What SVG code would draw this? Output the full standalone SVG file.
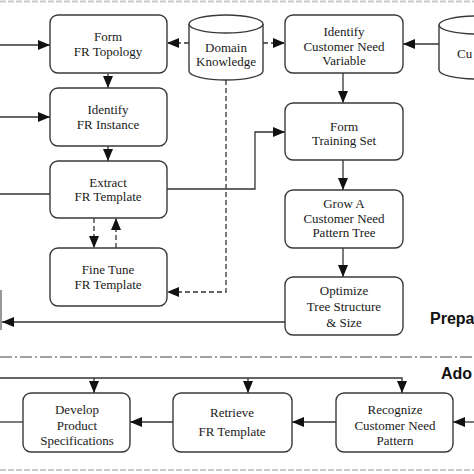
<svg xmlns="http://www.w3.org/2000/svg" width="474" height="474" viewBox="0 0 474 474">
<defs>
<style>
.box{fill:#fff;stroke:#3a3a3a;stroke-width:1.4}
.t{font-family:"Liberation Serif","Times New Roman",serif;font-size:13px;fill:#1a1a1a;text-anchor:middle}
.lbl{font-family:"Liberation Sans",Arial,sans-serif;font-size:16px;font-weight:bold;fill:#111}
.ln{fill:none;stroke:#333;stroke-width:1.3}
.dl{fill:none;stroke:#333;stroke-width:1.3;stroke-dasharray:5 3}
.sep{fill:none;stroke:#444;stroke-width:1.2;stroke-dasharray:12 3 2 3}
.faint{fill:none;stroke:#c8c8c8;stroke-width:2;stroke-dasharray:6 2}
</style>
<marker id="ah" viewBox="0 0 12 10" refX="12" refY="5" markerWidth="12" markerHeight="10" markerUnits="userSpaceOnUse" orient="auto">
<path d="M0,0 L12,5 L0,10 z" fill="#111"/>
</marker>
</defs>
<rect width="474" height="474" fill="#fff"/>
<line class="faint" x1="0" y1="1.5" x2="474" y2="1.5"/>
<line class="faint" x1="0" y1="470" x2="474" y2="470"/>
<rect x="0" y="290" width="2" height="40" fill="#999"/>

<g id="connectors">
<line class="ln" x1="0" y1="45" x2="50" y2="45" marker-end="url(#ah)"/>
<line class="ln" x1="0" y1="117" x2="50" y2="117" marker-end="url(#ah)"/>
<line class="ln" x1="0" y1="194" x2="50" y2="194"/>
<line class="ln" x1="108" y1="73" x2="108" y2="88" marker-end="url(#ah)"/>
<line class="ln" x1="108" y1="146" x2="108" y2="161" marker-end="url(#ah)"/>
<line class="dl" x1="94" y1="218" x2="94" y2="248" marker-end="url(#ah)"/>
<line class="dl" x1="116" y1="248" x2="116" y2="218" marker-end="url(#ah)"/>
<line class="dl" x1="189" y1="43" x2="167" y2="43" marker-end="url(#ah)"/>
<line class="dl" x1="263" y1="43" x2="285" y2="43" marker-end="url(#ah)"/>
<polyline class="dl" points="226,80 226,292 167,292" marker-end="url(#ah)"/>
<polyline class="ln" points="167,189 255,189 255,132 285,132" marker-end="url(#ah)"/>
<line class="ln" x1="439" y1="44" x2="403" y2="44" marker-end="url(#ah)"/>
<line class="ln" x1="343" y1="73" x2="343" y2="103" marker-end="url(#ah)"/>
<line class="ln" x1="343" y1="160" x2="343" y2="190" marker-end="url(#ah)"/>
<line class="ln" x1="343" y1="248" x2="343" y2="277" marker-end="url(#ah)"/>
<line class="ln" x1="285" y1="322" x2="2" y2="322" marker-end="url(#ah)"/>
<line class="sep" x1="0" y1="357" x2="474" y2="357"/>
<polyline class="ln" points="0,378 402,378 402,393" marker-end="url(#ah)"/>
<line class="ln" x1="94" y1="378" x2="94" y2="393" marker-end="url(#ah)"/>
<line class="ln" x1="248" y1="378" x2="248" y2="393" marker-end="url(#ah)"/>
<line class="ln" x1="0" y1="422" x2="23" y2="422"/>
<line class="ln" x1="173" y1="422" x2="130" y2="422" marker-end="url(#ah)"/>
<line class="ln" x1="336" y1="422" x2="292" y2="422" marker-end="url(#ah)"/>
<line class="ln" x1="474" y1="422" x2="453" y2="422" marker-end="url(#ah)"/>
</g>

<g id="form-fr-topology">
<rect class="box" x="50" y="15" width="117" height="58" rx="8"/>
<text class="t" x="108" y="41">Form</text>
<text class="t" x="108" y="56">FR Topology</text>
</g>
<g id="identify-fr-instance">
<rect class="box" x="50" y="88" width="117" height="58" rx="8"/>
<text class="t" x="108" y="114">Identify</text>
<text class="t" x="108" y="129">FR Instance</text>
</g>
<g id="extract-fr-template">
<rect class="box" x="50" y="161" width="117" height="57" rx="8"/>
<text class="t" x="108" y="187">Extract</text>
<text class="t" x="108" y="201">FR Template</text>
</g>
<g id="fine-tune-fr-template">
<rect class="box" x="50" y="248" width="117" height="58" rx="8"/>
<text class="t" x="108" y="274">Fine Tune</text>
<text class="t" x="108" y="289">FR Template</text>
</g>
<g id="domain-knowledge">
<path class="box" d="M189,24 A37,9 0 0 1 263,24 L263,71 A37,9 0 0 1 189,71 Z"/>
<path class="box" fill="none" d="M189,24 A37,9 0 0 0 263,24"/>
<text class="t" x="226" y="52">Domain</text>
<text class="t" x="226" y="66">Knowledge</text>
</g>
<g id="identify-customer-need-variable">
<rect class="box" x="285" y="15" width="118" height="58" rx="8"/>
<text class="t" x="344" y="36">Identify</text>
<text class="t" x="344" y="51">Customer Need</text>
<text class="t" x="344" y="65">Variable</text>
</g>
<g id="customer-db">
<path class="box" d="M439,25 A38,9 0 0 1 515,25 L515,70 A38,9 0 0 1 439,70 Z"/>
<path class="box" fill="none" d="M439,25 A38,9 0 0 0 515,25"/>
<text class="t" x="457" y="58" style="text-anchor:start">Cu</text>
</g>
<g id="form-training-set">
<rect class="box" x="285" y="103" width="118" height="57" rx="8"/>
<text class="t" x="344" y="131">Form</text>
<text class="t" x="344" y="145">Training Set</text>
</g>
<g id="grow-tree">
<rect class="box" x="285" y="190" width="118" height="58" rx="8"/>
<text class="t" x="344" y="208">Grow A</text>
<text class="t" x="344" y="223">Customer Need</text>
<text class="t" x="344" y="237">Pattern Tree</text>
</g>
<g id="optimize-tree">
<rect class="box" x="285" y="277" width="118" height="58" rx="8"/>
<text class="t" x="344" y="295">Optimize</text>
<text class="t" x="344" y="311">Tree Structure</text>
<text class="t" x="344" y="327">&amp; Size</text>
</g>
<g id="develop-product-specifications">
<rect class="box" x="23" y="393" width="107" height="59" rx="8"/>
<text class="t" x="77" y="414">Develop</text>
<text class="t" x="77" y="430">Product</text>
<text class="t" x="77" y="445">Specifications</text>
</g>
<g id="retrieve-fr-template">
<rect class="box" x="173" y="393" width="119" height="59" rx="8"/>
<text class="t" x="232" y="417">Retrieve</text>
<text class="t" x="232" y="436">FR Template</text>
</g>
<g id="recognize-pattern">
<rect class="box" x="336" y="393" width="117" height="59" rx="8"/>
<text class="t" x="395" y="414">Recognize</text>
<text class="t" x="395" y="430">Customer Need</text>
<text class="t" x="395" y="445">Pattern</text>
</g>
<text class="lbl" x="430" y="324">Prepa</text>
<text class="lbl" x="441" y="379">Ado</text>
</svg>
